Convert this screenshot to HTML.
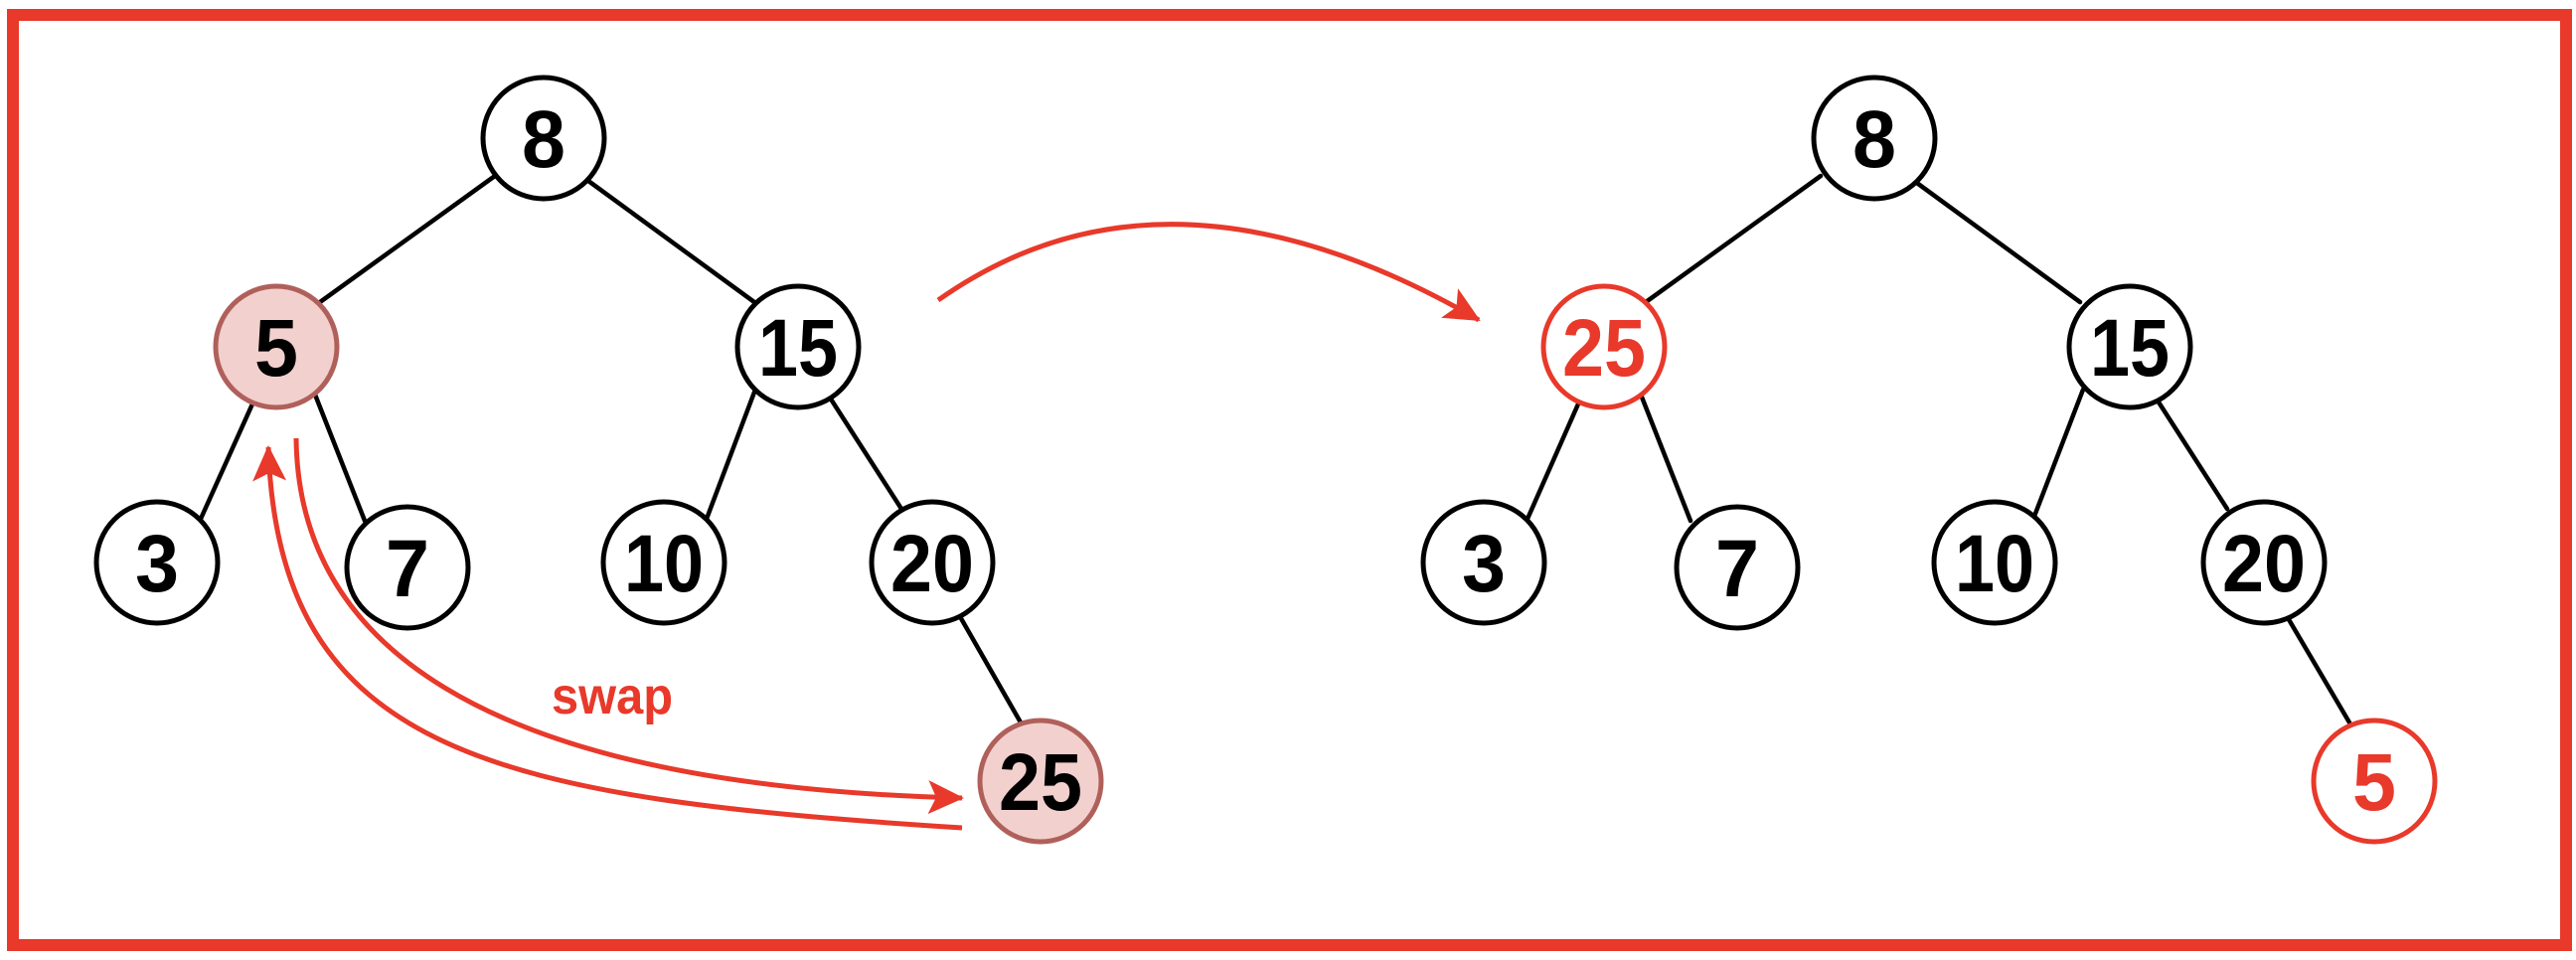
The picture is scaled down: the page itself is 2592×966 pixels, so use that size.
<!DOCTYPE html>
<html><head><meta charset="utf-8"><style>
html,body{margin:0;padding:0;background:#fff;}
svg{display:block;}
text{font-family:"Liberation Sans",Arial,sans-serif;font-weight:bold;}
</style></head><body>
<svg width="2592" height="966" viewBox="0 0 2592 966" xmlns="http://www.w3.org/2000/svg">
<rect x="13" y="15" width="2569" height="936" fill="#fff" stroke="#e8392a" stroke-width="12"/>
<defs>
<marker id="ah" viewBox="0 0 36 34" refX="34" refY="17" markerWidth="36" markerHeight="34" markerUnits="userSpaceOnUse" orient="auto">
<path d="M0,0 L36,17 L0,34 L8,17 Z" fill="#e8392a"/>
</marker>
</defs>
<g stroke="#000" stroke-width="4.5" stroke-linecap="round">
<line x1="498" y1="177" x2="322" y2="304"/>
<line x1="592" y1="182" x2="759" y2="304"/>
<line x1="256" y1="402" x2="202" y2="522"/>
<line x1="317" y1="397" x2="367" y2="524"/>
<line x1="760" y1="392" x2="711" y2="522"/>
<line x1="835" y1="400" x2="907" y2="512"/>
<line x1="964" y1="617" x2="1027" y2="727"/>
<line x1="1832" y1="177" x2="1656" y2="304"/>
<line x1="1926" y1="182" x2="2093" y2="304"/>
<line x1="1590" y1="402" x2="1537" y2="522"/>
<line x1="1651" y1="397" x2="1701" y2="524"/>
<line x1="2096" y1="392" x2="2046" y2="522"/>
<line x1="2169" y1="400" x2="2241" y2="512"/>
<line x1="2301" y1="620" x2="2364" y2="727"/>
</g>
<g stroke-width="5" fill="#fff" stroke="#000">
<circle cx="547" cy="139" r="61"/>
<circle cx="278" cy="349" r="61" fill="#f2d0ce" stroke="#b0605a"/>
<circle cx="803" cy="349" r="61"/>
<circle cx="158" cy="566" r="61"/>
<circle cx="410" cy="571" r="61"/>
<circle cx="668" cy="566" r="61"/>
<circle cx="938" cy="566" r="61"/>
<circle cx="1047" cy="786" r="61" fill="#f2d0ce" stroke="#b0605a"/>
<circle cx="1886" cy="139" r="61"/>
<circle cx="1614" cy="349" r="61" stroke="#e8392a"/>
<circle cx="2143" cy="349" r="61"/>
<circle cx="1493" cy="566" r="61"/>
<circle cx="1748" cy="571" r="61"/>
<circle cx="2007" cy="566" r="61"/>
<circle cx="2278" cy="566" r="61"/>
<circle cx="2389" cy="786" r="61" stroke="#e8392a"/>
</g>
<g font-size="82" text-anchor="middle" fill="#000">
<text x="547" y="168" textLength="44" lengthAdjust="spacingAndGlyphs">8</text>
<text x="278" y="378" textLength="44" lengthAdjust="spacingAndGlyphs">5</text>
<text x="803" y="378" textLength="80" lengthAdjust="spacingAndGlyphs">15</text>
<text x="158" y="595" textLength="44" lengthAdjust="spacingAndGlyphs">3</text>
<text x="410" y="600" textLength="44" lengthAdjust="spacingAndGlyphs">7</text>
<text x="668" y="595" textLength="80" lengthAdjust="spacingAndGlyphs">10</text>
<text x="938" y="595" textLength="84" lengthAdjust="spacingAndGlyphs">20</text>
<text x="1047" y="815" textLength="84" lengthAdjust="spacingAndGlyphs">25</text>
<text x="1886" y="168" textLength="44" lengthAdjust="spacingAndGlyphs">8</text>
<text x="1614" y="378" fill="#e8392a" textLength="84" lengthAdjust="spacingAndGlyphs">25</text>
<text x="2143" y="378" textLength="80" lengthAdjust="spacingAndGlyphs">15</text>
<text x="1493" y="595" textLength="44" lengthAdjust="spacingAndGlyphs">3</text>
<text x="1748" y="600" textLength="44" lengthAdjust="spacingAndGlyphs">7</text>
<text x="2007" y="595" textLength="80" lengthAdjust="spacingAndGlyphs">10</text>
<text x="2278" y="595" textLength="84" lengthAdjust="spacingAndGlyphs">20</text>
<text x="2389" y="815" fill="#e8392a" textLength="44" lengthAdjust="spacingAndGlyphs">5</text>
</g>
<g fill="none" stroke="#e8392a" stroke-width="5">
<path d="M944,302 Q1173,140 1488,322" marker-end="url(#ah)"/>
<path d="M298,441 C300,640 470,790 968,803" marker-end="url(#ah)"/>
<path d="M968,833 C500,803 280,760 270,450" marker-end="url(#ah)"/>
</g>
<text x="616" y="718" font-size="52" fill="#e8392a" text-anchor="middle" textLength="122" lengthAdjust="spacingAndGlyphs">swap</text>
</svg>
</body></html>
